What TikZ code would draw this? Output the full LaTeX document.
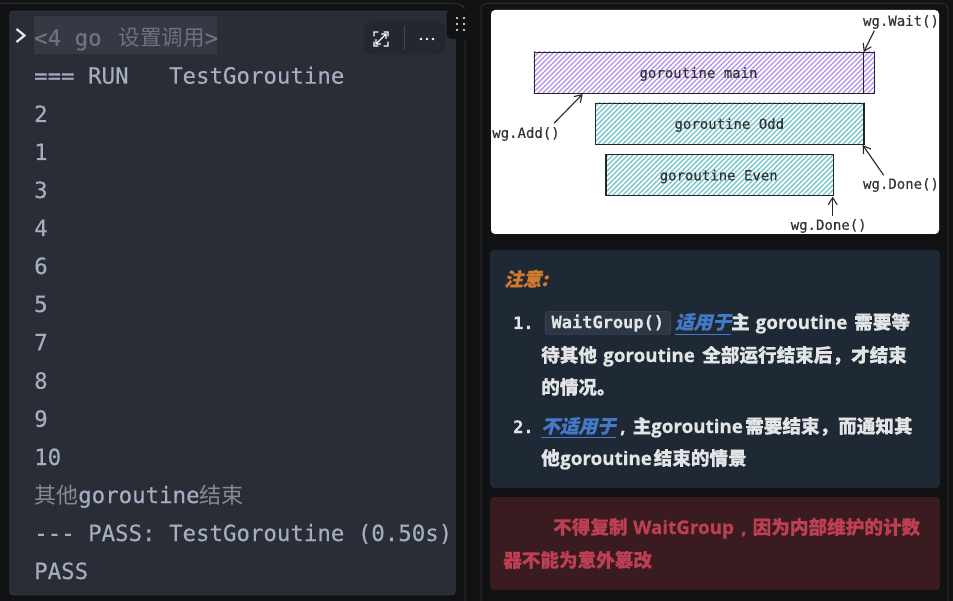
\documentclass[tikz,border=0pt]{standalone}
\usepackage{fontspec}
\usetikzlibrary{arrows.meta}
\setmainfont[BoldFeatures={FakeBold=0.5}]{Open Sans}
\newfontfamily\monofont[FakeBold=0.25,BoldFeatures={FakeBold=0.3}]{DejaVu Sans Mono}
\newfontfamily\cjk[BoldFeatures={FakeBold=0.5}]{Noto Sans CJK SC}
\newcommand{\zhit}[1]{{\cjk\bfseries\addfontfeatures{FakeSlant=0.25}#1}}
\definecolor{pagebg}{HTML}{111213}
\definecolor{framecol}{HTML}{2B2C2E}
\definecolor{panelbg}{HTML}{2A2D36}
\definecolor{panelline}{HTML}{43464F}
\definecolor{headbg}{HTML}{353944}
\definecolor{codetext}{HTML}{A3AEC2}
\definecolor{headtext}{HTML}{6E737D}
\definecolor{zhtext}{HTML}{858A94}
\definecolor{notebg}{HTML}{1F2935}
\definecolor{notetext}{HTML}{E2E4E6}
\definecolor{noteorange}{HTML}{D07A2E}
\definecolor{noteblue}{HTML}{4479C6}
\definecolor{chipbg}{HTML}{2C3644}
\definecolor{chipline}{HTML}{465162}
\definecolor{warnbg}{HTML}{3A1B20}
\definecolor{warntext}{HTML}{BC3F54}
\definecolor{hatchpurple}{HTML}{B48CF2}
\definecolor{hatchteal}{HTML}{6CC4CE}
\tikzset{
  codeline/.style={anchor=base west,inner sep=0pt,text=codetext,font=\monofont\fontsize{22.4}{24}\selectfont},
  sketchlabel/.style={inner sep=0pt,text=black!80,font=\monofont\fontsize{14}{15}\selectfont},
  sketchbox/.style={draw=black!85,line width=1.2pt,minimum height=41pt,inner sep=0pt,anchor=north west},
  sketcharrow/.style={draw=black!85,line width=1.1pt,-{Straight Barb[length=7pt,width=9pt]}},
  notetxt/.style={anchor=base west,inner sep=0pt,text=notetext,font=\bfseries\fontsize{18.8}{20}\selectfont},
  zhtxt/.style={notetxt,font=\cjk\bfseries\fontsize{18.6}{20}\selectfont},
  warntxt/.style={notetxt,text=warntext},
  warnzh/.style={zhtxt,text=warntext},
  linktxt/.style={zhtxt,text=noteblue},
}
\begin{document}
\begin{tikzpicture}[x=1pt,y=-1pt]
  \useasboundingbox (0,0) rectangle (953,601);
  \fill[pagebg] (0,0) rectangle (953,601);
  % left side
  \draw[framecol,line width=1pt,rounded corners=5pt] (-3,3.5) -- (460,3.5) -- (465,8) -- (465,604);
  \draw[framecol,line width=1pt,rounded corners=5pt] (481,604) -- (481,3.5) -- (948,3.5) -- (948,604);
  \draw[panelline,fill=panelbg,rounded corners=4pt] (9.5,11) rectangle (455.5,595);
  \fill[headbg] (34,16) rectangle (217,54);
  \draw[white!90!black,line width=2.2pt] (16.5,29) -- (24.5,35.5) -- (16.5,42);
  \node[codeline,text=headtext] (headline) at (34,45.7) {<4 go {\cjk\fontsize{21.5}{24}\selectfont\,设置调用}>};
  \foreach \n/\y/\t in {1/83.6/=== RUN~~~TestGoroutine,2/122/2,3/160/1,4/198/3,5/236/4,6/274/6,7/312/5,8/350.3/7,9/388.7/8,10/426.8/9,11/465/10,13/541/--- PASS: TestGoroutine (0.50s),14/579/PASS}
    \node[codeline] (line\n) at (34,\y) {\t};
  \node[codeline] (line12) at (34,503) {{\cjk\fontsize{22}{24}\selectfont\color{zhtext}其他}goroutine{\cjk\fontsize{22}{24}\selectfont\color{zhtext}结束}};
  % toolbar
  \fill[black,opacity=.12,rounded corners=8pt] (364,21) rectangle (445,55);
  \draw[white,line width=1.3pt,line cap=round] (374,36) -- (374,32) -- (378,32) (384,32) -- (388,32) -- (388,36)
    (388,42) -- (388,46) -- (384,46) (378,46) -- (374,46) -- (374,42) (376,44) -- (386,34) (381.5,34) -- (386,34) -- (386,38.5) (376,39.5) -- (376,44) -- (380.5,44);
  \draw[panelline] (404.5,26) -- (404.5,50);
  \foreach \x in {421,427,433}
    \fill[white] (\x,39) circle (1.3pt);
  \fill[pagebg,rounded corners=5pt] (446.5,10) rectangle (472,39);
  \foreach \x in {457,464}
    \foreach \y in {18,24,30}
      \fill[white] (\x,\y) circle (1.1pt);
  % sketch
  \fill[white,rounded corners=4pt] (491,10) rectangle (939,234);
  \begin{scope}
    \clip (533.7,52) rectangle (875,93);
    \foreach \x in {486,491,...,876}
      \draw[hatchpurple,line width=1.3pt] (\x,95) -- (\x+45,50);
  \end{scope}
  \begin{scope}
    \clip (595,103) rectangle (865,144.5);
    \foreach \x in {546,551,...,866}
      \draw[hatchteal,line width=1.3pt] (\x,146) -- (\x+45,101);
  \end{scope}
  \begin{scope}
    \clip (605.3,154.3) rectangle (834,196);
    \foreach \x in {556,561,...,836}
      \draw[hatchteal,line width=1.3pt] (\x,197) -- (\x+45,152);
  \end{scope}
  \node[sketchbox,minimum width=340.3pt] (mainbox) at (533.7,52) {};
  \node[sketchbox,minimum width=268.3pt] (oddbox) at (595,103) {};
  \node[sketchbox,minimum width=227.4pt] (evenbox) at (605.3,154.3) {};
  \draw[black!85,line width=1.2pt] (863.7,52) -- (863.7,93);
  \node[sketchlabel] (maintext) at (698.5,74) {goroutine main};
  \node[sketchlabel] (oddtext) at (729.3,125) {goroutine Odd};
  \node[sketchlabel] (eventext) at (718.7,176.5) {goroutine Even};
  \node[sketchlabel] (waitlabel) at (901,22) {wg.Wait()};
  \node[sketchlabel] (addlabel) at (526,134) {wg.Add()};
  \node[sketchlabel] (donelabel) at (901,185) {wg.Done()};
  \node[sketchlabel] (evenlabel) at (828.7,226) {wg.Done()};
  \coordinate (waitend) at (863.7,52);
  \coordinate (addstart) at (554,123.3);
  \coordinate (addend) at (582.7,94);
  \coordinate (donestart) at (883.7,175.3);
  \coordinate (doneend) at (862.7,145);
  \coordinate (evenstart) at (832.7,216);
  \coordinate (evenend) at (832.7,196.7);
  \coordinate (waitstart) at (874.3,30.7);
  \draw[sketcharrow] (waitstart) -- (waitend);
  \draw[sketcharrow] (addstart) -- (addend);
  \draw[sketcharrow] (donestart) -- (doneend);
  \draw[sketcharrow] (evenstart) -- (evenend);
  % note box
  \fill[notebg,rounded corners=4pt] (490,250) rectangle (940,488);
  \node[zhtxt,text=noteorange] (notehead) at (504,286) {\zhit{注意:}};
  \node[notetxt,font=\monofont\bfseries\fontsize{17}{20}\selectfont] (numone) at (513,329) {1.};
  \node[draw=chipline,fill=chipbg,rounded corners=3pt,minimum width=125pt,minimum height=23.5pt,inner sep=0pt,text=notetext,font=\monofont\bfseries\fontsize{17}{20}\selectfont] (chip) at (607.8,323) {WaitGroup()};
  \node[linktxt] (linkone) at (675,329) {\zhit{适用于}};
  \draw[noteblue,line width=.8pt] (675,334.5) -- (731,334.5);
  \node[zhtxt] (texta) at (731,329) {主};
  \node[notetxt] (textb) at (755.5,329) {goroutine};
  \node[zhtxt] (textc) at (854,329) {需要等};
  \node[zhtxt] (textd) at (541,362) {待其他};
  \node[notetxt] (texte) at (603,362) {goroutine};
  \node[zhtxt] (textf) at (702,362) {全部运行结束后，才结束};
  \node[zhtxt] (textg) at (541,394) {的情况。};
  \node[notetxt,font=\monofont\bfseries\fontsize{17}{20}\selectfont] (numtwo) at (513,433) {2.};
  \node[linktxt] (linktwo) at (541,433) {\zhit{不适用于}};
  \draw[noteblue,line width=.8pt] (541,437.5) -- (616,437.5);
  \node[notetxt] (texth) at (620,433) {,};
  \node[zhtxt] (texti) at (632.5,433) {主};
  \node[notetxt] (textj) at (651,433) {goroutine};
  \node[zhtxt] (textk) at (745,433) {需要结束，而通知其};
  \node[zhtxt] (textl) at (541,465) {他};
  \node[notetxt] (textm) at (560,465) {goroutine};
  \node[zhtxt] (textn) at (653.5,465) {结束的情景};
  % warning box
  \fill[warnbg,rounded corners=4pt] (490,497) rectangle (940,590);
  \node[warnzh] (warna) at (553,534) {不得复制};
  \node[warntxt] (warnb) at (633,534) {WaitGroup};
  \node[warntxt] (warnc) at (741,534) {,};
  \node[warnzh] (warnd) at (752.5,534) {因为内部维护的计数};
  \node[warnzh] (warne) at (503,567) {器不能为意外篡改};
\end{tikzpicture}
\end{document}
